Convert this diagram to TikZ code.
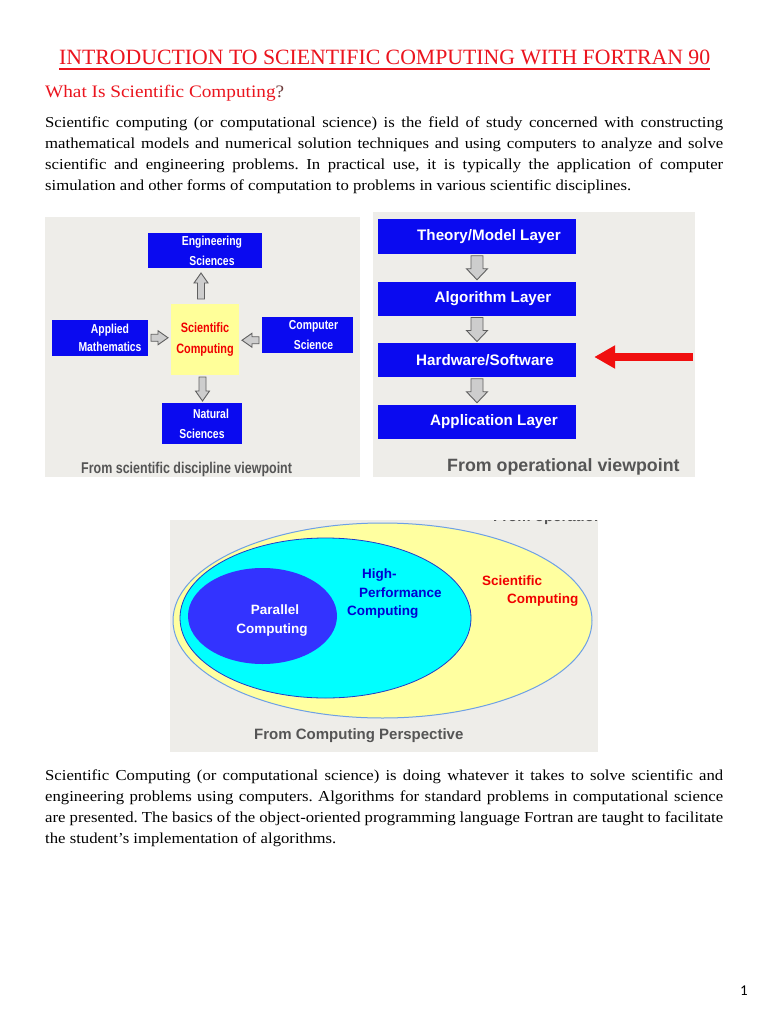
\documentclass[tikz,border=0pt]{standalone}
\usepackage{fontspec}
\usepackage{graphicx}
\setmainfont{Liberation Serif}[FakeStretch=1.1]
\newfontfamily\titlefont{Liberation Serif}
\newfontfamily\diagfont{Liberation Sans}
\newfontfamily\diagcond{Liberation Sans}[FakeStretch=0.8]
\newfontfamily\pagefont{Carlito}
\usetikzlibrary{calc,arrows.meta}
\definecolor{bgGray}{RGB}{238,237,233}
\definecolor{boxBlue}{RGB}{10,10,240}
\definecolor{boxYellow}{RGB}{255,255,153}
\definecolor{arrGray}{RGB}{205,205,205}
\definecolor{arrEdge}{RGB}{95,95,95}
\definecolor{capGray}{RGB}{85,85,85}
\definecolor{titleRed}{RGB}{235,20,30}
\definecolor{sciRed}{RGB}{240,0,0}
\definecolor{ellYellow}{RGB}{255,255,160}
\definecolor{ellEdge}{RGB}{110,160,230}
\definecolor{cyanFill}{RGB}{0,255,255}
\definecolor{cyanEdge}{RGB}{30,60,200}
\definecolor{darkEll}{RGB}{51,51,255}
\definecolor{hpcBlue}{RGB}{0,0,210}
\definecolor{redArrow}{RGB}{240,15,15}
\definecolor{qGray}{RGB}{110,60,60}
\begin{document}
\frenchspacing
\begin{tikzpicture}[x=1pt,y=-1pt,
  bodyline/.style={anchor=base west,inner sep=0pt,font=\fontsize{15.2}{18}\selectfont},
  bluebox/.style={fill=boxBlue,draw=none,text=white,inner sep=0pt,align=center,
     font=\diagcond\bfseries\fontsize{13}{20}\selectfont},
  layerbox/.style={fill=boxBlue,draw=none,text=white,inner sep=0pt,
     minimum width=198pt,minimum height=34pt,font=\diagfont\bfseries\fontsize{15.2}{17}\selectfont},
  yellowbox/.style={fill=boxYellow,draw=none,text=sciRed,inner sep=0pt,align=center,
     font=\diagcond\bfseries\fontsize{13.6}{21}\selectfont},
  caption/.style={anchor=base west,inner sep=0pt,text=capGray,font=\diagfont\bfseries},
  arrowshape/.style={fill=arrGray,draw=arrEdge,line width=0.9pt,line join=miter},
  pics/smallarr/.style={code={\draw[arrowshape] (-#1/2,-3.5) -- (#1/2-10,-3.5) -- (#1/2-10,-7) -- (#1/2,0) -- (#1/2-10,7) -- (#1/2-10,3.5) -- (-#1/2,3.5) -- cycle;}},
  pics/bigarr/.style={code={\draw[arrowshape] (-#1/2,-6) -- (#1/2-11,-6) -- (#1/2-11,-10.5) -- (#1/2,0) -- (#1/2-11,10.5) -- (#1/2-11,6) -- (-#1/2,6) -- cycle;}},
  ellipsetext/.style={inner sep=0pt,font=\diagfont\bfseries\fontsize{13.5}{18.5}\selectfont}
]
\useasboundingbox (0,0) rectangle (768,1024);
\fill[white] (0,0) rectangle (768,1024);

% ---------- title ----------
\node[anchor=base west,inner sep=0pt,text=titleRed] (title) at (59,65)
  {\resizebox{651pt}{14.5pt}{\titlefont\fontsize{20}{20}\selectfont INTRODUCTION TO SCIENTIFIC COMPUTING WITH FORTRAN 90}};
\draw[titleRed,line width=1.3pt] ([yshift=-3.5pt]title.south west) -- ([yshift=-3.5pt]title.south east);

\node[anchor=base west,inner sep=0pt,text=titleRed,font=\fontsize{17.5}{19}\selectfont] (heading) at (45,98)
  {What Is Scientific Computing\textcolor{qGray}{?}};

% ---------- paragraph 1 ----------
\node[bodyline] (p1a) at (45,128) {\makebox[678pt][s]{Scientific computing (or computational science) is the field of study concerned with constructing}};
\node[bodyline] (p1b) at (45,149) {\makebox[678pt][s]{mathematical models and numerical solution techniques and using computers to analyze and solve}};
\node[bodyline] (p1c) at (45,170) {\makebox[678pt][s]{scientific and engineering problems. In practical use, it is typically the application of computer}};
\node[bodyline] (p1d) at (45,191) {simulation and other forms of computation to problems in various scientific disciplines.};

% ---------- left image ----------
\fill[bgGray] (45,217) rectangle (360,477);
\node[bluebox,minimum width=114pt,minimum height=35pt] (eng) at (205,250.5) {\hspace*{14pt}Engineering\\\hspace*{14pt}Sciences};
\node[yellowbox,minimum width=68pt,minimum height=71pt] (sci) at (205,339.5) {Scientific\\Computing};
\node[bluebox,minimum width=96pt,minimum height=36pt,font=\diagcond\bfseries\fontsize{13}{18}\selectfont] (app) at (100,338) {\hspace*{20pt}Applied\\\hspace*{20pt}Mathematics};
\node[bluebox,minimum width=91pt,minimum height=36pt] (comp) at (307.5,335) {\hspace*{12pt}Computer\\\hspace*{12pt}Science};
\node[bluebox,minimum width=80pt,minimum height=41pt] (nat) at (202,423.5) {\hspace*{18pt}Natural\\Sciences};
\pic[rotate=90] at ($(eng.south)!0.5!(sci.north)+(-4,0)$) {smallarr=26};
\pic at ($(app.east)!0.5!(sci.west)+(0,-1)$) {smallarr=17};
\pic[rotate=180] at ($(comp.west)!0.5!(sci.east)+(0,3)$) {smallarr=17};
\pic[rotate=-90] at ($(sci.south)!0.5!(nat.north)+(-1,0)$) {smallarr=24};
\node[caption,font=\diagcond\bfseries\fontsize{15.6}{17}\selectfont] (cap1) at (81,473) {From scientific discipline viewpoint};

% ---------- right image ----------
\fill[bgGray] (373,212) rectangle (695,477);
\node[layerbox] (theory) at (477,236.5) {\hspace*{24pt}Theory/Model Layer};
\node[layerbox] (algo) at (477,299) {\hspace*{32pt}Algorithm Layer};
\node[layerbox] (hw) at (477,360) {\hspace*{16pt}Hardware/Software};
\node[layerbox] (appl) at (477,421.5) {\hspace*{34pt}Application Layer};
\pic[rotate=-90] at ($(theory.south)!0.5!(algo.north)$) {bigarr=24};
\pic[rotate=-90] at ($(algo.south)!0.5!(hw.north)$) {bigarr=24};
\pic[rotate=-90] at ($(hw.south)!0.5!(appl.north)$) {bigarr=24};
\coordinate (redtail) at (693,357);
\draw[redArrow,line width=7.5pt,-{Triangle[length=21pt,width=22pt]}] (redtail) -- ($(hw.east|-redtail)+(18,0)$);
\node[caption,font=\diagfont\bfseries\fontsize{17.8}{19}\selectfont] (cap2) at (447,471) {From operational viewpoint};

% ---------- ellipse image ----------
\fill[bgGray] (170,520) rectangle (598,752);
\begin{scope}
\clip (170,520) rectangle (598,752);
\node[caption,font=\diagfont\bfseries\fontsize{15}{17}\selectfont] (cutcap) at (493,521.8) {From operational};
\end{scope}
\draw[fill=ellYellow,draw=ellEdge,line width=1pt] (382.5,620.5) ellipse [x radius=209.5pt,y radius=97.5pt];
\draw[fill=cyanFill,draw=cyanEdge,line width=0.8pt] (325.5,618) ellipse [x radius=145.5pt,y radius=80pt];
\fill[darkEll] (262.5,616) ellipse [x radius=74.5pt,y radius=48pt];
\node[ellipsetext,text=white,align=center] (par) at (272,620.5) {\hspace*{6pt}Parallel\\Computing};
\node[ellipsetext,text=hpcBlue,align=left,anchor=west] (hpc) at (347,594) {\hspace*{15pt}High-\\\hspace*{12pt}Performance\\Computing};
\node[ellipsetext,text=sciRed,align=left,anchor=west] (scic) at (482,591) {Scientific\\\hspace*{25pt}Computing};
\node[caption,font=\diagfont\bfseries\fontsize{15}{17}\selectfont] (cap3) at (254,739) {From Computing Perspective};

% ---------- paragraph 2 ----------
\node[bodyline] (p2a) at (45,780) {\makebox[678pt][s]{Scientific Computing (or computational science) is doing whatever it takes to solve scientific and}};
\node[bodyline] (p2b) at (45,801) {\makebox[678pt][s]{engineering problems using computers. Algorithms for standard problems in computational science}};
\node[bodyline] (p2c) at (45,822) {\makebox[678pt][s]{are presented. The basics of the object-oriented programming language Fortran are taught to facilitate}};
\node[bodyline] (p2d) at (45,843) {the student's implementation of algorithms.};

% ---------- page number ----------
\node[anchor=base,inner sep=0pt,font=\pagefont\fontsize{15}{16}\selectfont] (pnum) at (744,995) {1};
\end{tikzpicture}
\end{document}
